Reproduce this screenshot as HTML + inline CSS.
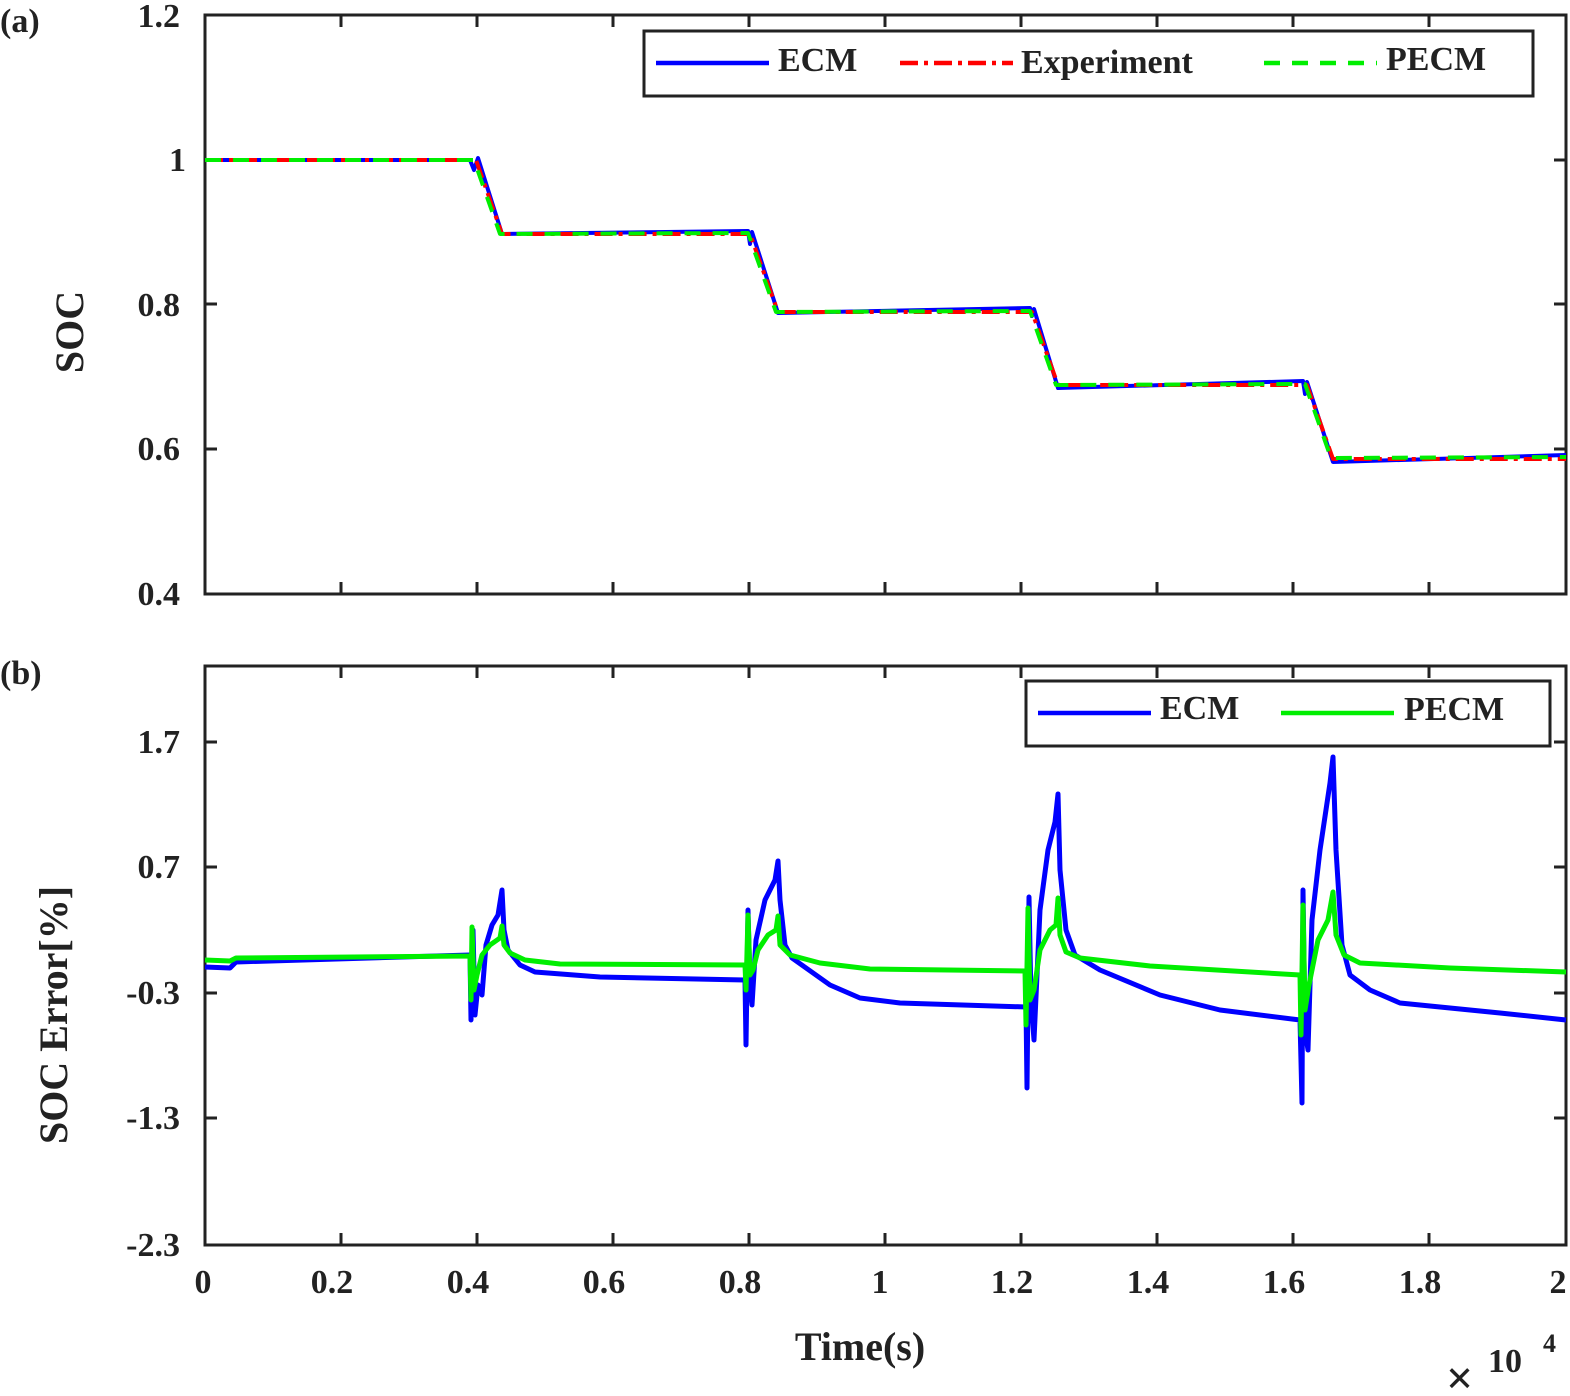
<!DOCTYPE html><html><head><style>body{margin:0;background:#fff}svg{display:block}text{font-family:"Liberation Serif",serif;font-weight:bold;fill:#222}</style></head><body>
<svg width="1570" height="1396" xmlns="http://www.w3.org/2000/svg">
<g stroke="#222" stroke-width="3" fill="none">
<rect x="205" y="15" width="1361" height="579"/>
<rect x="205" y="666" width="1361" height="579"/>
<path d="M205 160h12M205 304h12M205 449h12M1566 160h-12M1566 304h-12M1566 449h-12
M341 594v-12M477 594v-12M613 594v-12M749 594v-12M885 594v-12M1021 594v-12M1157 594v-12M1293 594v-12M1429 594v-12
M341 15v12M477 15v12M613 15v12M749 15v12M885 15v12M1021 15v12M1157 15v12M1293 15v12M1429 15v12
M205 742h12M205 867h12M205 993h12M205 1118h12M1566 742h-12M1566 867h-12M1566 993h-12M1566 1118h-12
M341 1245v-12M477 1245v-12M613 1245v-12M749 1245v-12M885 1245v-12M1021 1245v-12M1157 1245v-12M1293 1245v-12M1429 1245v-12
M341 666v12M477 666v12M613 666v12M749 666v12M885 666v12M1021 666v12M1157 666v12M1293 666v12M1429 666v12"/>
</g>
<g font-size="34" text-anchor="end">
<text x="180" y="27">1.2</text><text x="186" y="171">1</text><text x="180" y="316">0.8</text><text x="180" y="460">0.6</text><text x="180" y="605">0.4</text>
<text x="180" y="753">1.7</text><text x="180" y="878">0.7</text><text x="180" y="1004">-0.3</text><text x="180" y="1129">-1.3</text><text x="180" y="1256">-2.3</text>
</g>
<g font-size="34" text-anchor="middle">
<text x="203" y="1293">0</text><text x="332" y="1293">0.2</text><text x="468" y="1293">0.4</text><text x="604" y="1293">0.6</text><text x="740" y="1293">0.8</text><text x="880" y="1293">1</text><text x="1012" y="1293">1.2</text><text x="1148" y="1293">1.4</text><text x="1284" y="1293">1.6</text><text x="1420" y="1293">1.8</text><text x="1558" y="1293">2</text>
</g>
<text x="860" y="1360" font-size="40" text-anchor="middle">Time(s)</text>
<text x="1446" y="1394" font-size="48" font-weight="normal">×</text><text x="1488" y="1372" font-size="34">10</text><text x="1543" y="1352" font-size="26">4</text>
<text transform="translate(83,332) rotate(-90)" font-size="40" text-anchor="middle">SOC</text>
<text transform="translate(67,1015) rotate(-90)" font-size="40" text-anchor="middle">SOC Error[%]</text>
<text x="0" y="32" font-size="34">(a)</text><text x="0" y="684" font-size="34">(b)</text>
<g fill="none" stroke-width="4" stroke-linejoin="round">
<path stroke="#0000ff" d="M205 160H470L474 170L478 158L502 234L748 231L750 244L752 232L778 313L1030 308L1032 316L1034 309L1058 388L1303 381L1305 394L1307 382L1333 462L1566 455"/>
<path stroke="#ff0000" stroke-dasharray="18,6,4,6" d="M205 160H476L502 234L750 234L778 312L1032 312L1058 385L1307 385L1333 459L1566 459"/>
<path stroke="#00ee00" stroke-dasharray="16,12" d="M205 160H474L500 234L748 233L776 312L1030 311L1056 385L1305 384L1331 458L1566 457"/>
</g>
<g fill="none" stroke-width="5" stroke-linejoin="round">
<path stroke="#0000ff" d="M205 967L230 968L236 962L470 955L471 1020L473 930L475 1015L478 985L482 995L486 945L492 925L498 915L502 890L504 930L508 950L520 965L535 972L600 977L745 980L746 1045L748 910L750 985L752 1005L756 940L765 900L775 880L778 861L780 900L785 945L792 958L830 985L860 998L900 1003L1026 1007L1027 1088L1029 897L1031 1000L1034 1040L1040 910L1048 850L1055 822L1058 794L1060 870L1066 930L1075 955L1100 970L1160 995L1220 1010L1300 1020L1302 1103L1303 890L1305 1030L1308 1050L1312 920L1320 850L1330 783L1333 757L1336 850L1342 945L1350 975L1370 990L1400 1003L1500 1013L1566 1020"/>
<path stroke="#00ee00" d="M205 960L230 961L236 958L470 956L471 1000L472 927L474 990L477 975L482 955L490 945L500 938L502 926L504 945L510 953L525 960L560 964L745 965L746 990L748 915L750 975L753 970L758 950L768 935L776 930L778 916L780 945L790 955L820 963L870 969L1025 971L1026 1025L1028 908L1030 1000L1034 990L1040 950L1050 930L1056 925L1058 898L1060 935L1066 952L1080 958L1150 966L1300 975L1301 1035L1303 905L1305 1010L1309 985L1318 940L1328 920L1333 892L1336 935L1344 955L1360 963L1450 968L1566 972"/>
</g>
<rect x="644" y="31" width="889" height="65" fill="#fff" stroke="#222" stroke-width="3"/>
<path d="M656 63h113" stroke="#0000ff" stroke-width="4.5"/>
<path d="M900 63h113" stroke="#ff0000" stroke-width="4.5" stroke-dasharray="18,6,4,6"/>
<path d="M1264 63h113" stroke="#00ee00" stroke-width="4.5" stroke-dasharray="16,12"/>
<g font-size="34"><text x="778" y="71">ECM</text><text x="1021" y="73">Experiment</text><text x="1386" y="70">PECM</text></g>
<rect x="1026" y="681" width="524" height="65" fill="#fff" stroke="#222" stroke-width="3"/>
<path d="M1038 713h113" stroke="#0000ff" stroke-width="4.5"/>
<path d="M1281 713h113" stroke="#00ee00" stroke-width="4.5"/>
<g font-size="34"><text x="1160" y="719">ECM</text><text x="1404" y="720">PECM</text></g>
</svg></body></html>
